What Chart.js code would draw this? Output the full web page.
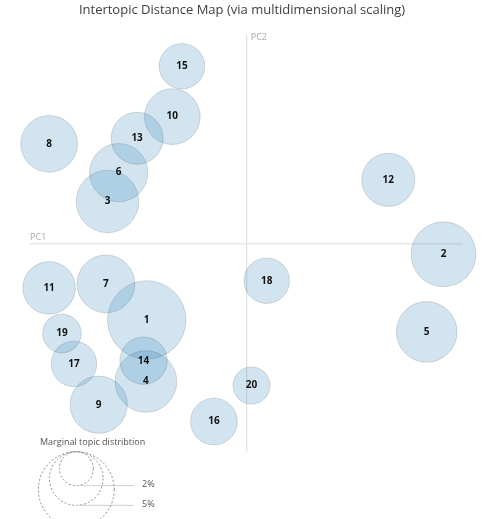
<!DOCTYPE html>
<html>
<head>
<meta charset="utf-8">
<script src="https://cdn.jsdelivr.net/npm/chart.js@4"></script>
<style>
  html, body { margin: 0; padding: 0; background: #fff; }
  #wrap { position: relative; width: 484px; height: 519px; }
</style>
</head>
<body>
<div id="wrap"><canvas id="c" width="484" height="519"></canvas></div>
<script>
// ---- data ----
const topics = [1, 2, 3, 4, 5, 6, 7, 8, 9, 10, 11, 12, 13, 14, 15, 16, 17, 18, 19, 20];
const pc1 = [-0.125, 0.246, -0.174, -0.126, 0.225, -0.160, -0.176, -0.247, -0.185, -0.093,
             -0.247, 0.177, -0.137, -0.129, -0.081, -0.041, -0.216, 0.025, -0.231, 0.006];
const pc2 = [-0.095, -0.013, 0.053, -0.172, -0.110, 0.089, -0.050, 0.125, -0.201, 0.159,
             -0.055, 0.080, 0.132, -0.146, 0.222, -0.222, -0.150, -0.046, -0.112, -0.177];
// marginal topic distribution (%)
const marginal = [10.7, 7.3, 6.8, 6.6, 6.4, 5.9, 5.8, 5.6, 5.7, 5.4,
                  4.8, 4.9, 4.7, 3.9, 3.6, 3.8, 3.6, 3.6, 2.6, 2.4];
const legendSizes = [2, 5, 10];
const legendLabels = ['2%', '5%', '10%'];

// ---- size mapping (area proportional to marginal share) ----
const R_SCALE = 12;
const radiusFor = p => R_SCALE * Math.sqrt(p);

const points = topics.map((t, i) => ({ x: pc1[i], y: pc2[i], r: radiusFor(marginal[i]) }));

// axis line extents (in PC units)
const PC1_RANGE = [-0.272, 0.270];
const PC2_RANGE = [-0.260, 0.261];

// keep the plot area full-size (no automatic inset for bubble radius)
const BubbleCtrl = Chart.BubbleController || Chart.registry.getController('bubble');
BubbleCtrl.prototype.getMaxOverflow = function () { return false; };

const axesPlugin = {
  id: 'pcAxes',
  beforeDatasetsDraw(chart) {
    const { ctx, scales: { x, y } } = chart;
    const y0 = y.getPixelForValue(0), x0 = x.getPixelForValue(0);
    ctx.save();
    ctx.strokeStyle = '#dcdcdc';
    ctx.lineWidth = 1;
    ctx.beginPath();
    ctx.moveTo(x.getPixelForValue(PC1_RANGE[0]), y0);
    ctx.lineTo(x.getPixelForValue(PC1_RANGE[1]), y0);
    ctx.moveTo(x0, y.getPixelForValue(PC2_RANGE[1]));
    ctx.lineTo(x0, y.getPixelForValue(PC2_RANGE[0]));
    ctx.stroke();
    ctx.fillStyle = '#aaaaaa';
    ctx.font = '9px "Open Sans", sans-serif';
    ctx.textBaseline = 'bottom';
    ctx.textAlign = 'left';
    ctx.fillText('PC1', x.getPixelForValue(PC1_RANGE[0]) + 1, y0 - 2);
    ctx.textBaseline = 'top';
    ctx.fillText('PC2', x0 + 4, y.getPixelForValue(PC2_RANGE[1]) - 2);
    ctx.restore();
  }
};

const labelPlugin = {
  id: 'topicLabels',
  afterDatasetsDraw(chart) {
    const { ctx } = chart;
    const meta = chart.getDatasetMeta(0);
    ctx.save();
    ctx.fillStyle = '#111111';
    ctx.font = 'bold 10px "Open Sans", sans-serif';
    ctx.textAlign = 'center';
    ctx.textBaseline = 'middle';
    meta.data.forEach((el, i) => ctx.fillText(String(topics[i]), el.x, el.y));
    ctx.restore();
  }
};

const LEGEND = { titleX: 40, titleY: 442, cx: 76.3, top: 451.7, lineEnd: 134, labelX: 142 };
const sizeLegendPlugin = {
  id: 'sizeLegend',
  afterDraw(chart) {
    const { ctx } = chart;
    ctx.save();
    ctx.fillStyle = '#555555';
    ctx.font = '9px "Open Sans", sans-serif';
    ctx.textAlign = 'left';
    ctx.textBaseline = 'middle';
    ctx.fillText('Marginal topic distribtion', LEGEND.titleX, LEGEND.titleY);
    legendSizes.forEach((p, i) => {
      const r = radiusFor(p);
      const cy = LEGEND.top + r;
      ctx.setLineDash([2, 2]);
      ctx.strokeStyle = '#8a8a8a';
      ctx.lineWidth = 1;
      ctx.beginPath();
      ctx.arc(LEGEND.cx, cy, r, 0, Math.PI * 2);
      ctx.stroke();
      ctx.setLineDash([]);
      ctx.strokeStyle = '#d0d0d0';
      ctx.beginPath();
      ctx.moveTo(LEGEND.cx, cy + r);
      ctx.lineTo(LEGEND.lineEnd, cy + r);
      ctx.stroke();
      ctx.fillText(legendLabels[i], LEGEND.labelX, cy + r - 1);
    });
    ctx.restore();
  }
};

new Chart(document.getElementById('c'), {
  type: 'bubble',
  data: {
    datasets: [{
      label: 'Topics',
      data: points,
      backgroundColor: 'rgba(31,119,180,0.2)',
      borderColor: 'rgba(0,0,0,0.13)',
      borderWidth: 1,
      hoverBorderWidth: 1,
      clip: false
    }]
  },
  options: {
    responsive: false,
    animation: false,
    layout: { padding: 0 },
    scales: {
      x: { type: 'linear', display: false, min: -0.3084, max: 0.2966 },
      y: { type: 'linear', display: false, min: -0.3438, max: 0.2790 }
    },
    plugins: {
      legend: { display: false },
      tooltip: { enabled: false },
      title: {
        display: true,
        text: 'Intertopic Distance Map (via multidimensional scaling)',
        color: '#404040',
        font: { family: '"Open Sans", sans-serif', size: 13, weight: 'normal', lineHeight: 1.2 },
        padding: { top: 2, bottom: 3 }
      }
    }
  },
  plugins: [axesPlugin, labelPlugin, sizeLegendPlugin]
});
</script>
</body>
</html>
